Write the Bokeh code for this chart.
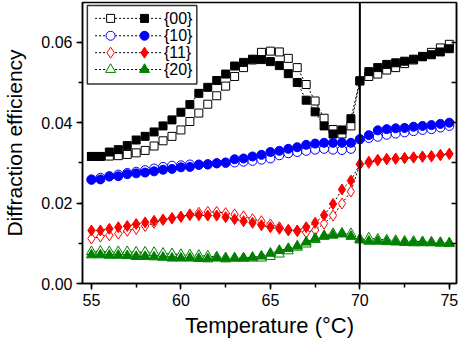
from bokeh.plotting import figure
from bokeh.models import (Range1d, LinearAxis, SingleIntervalTicker, FixedTicker,
                          NumeralTickFormatter, Span, ColumnDataSource)
from bokeh.core.properties import value
from bokeh.embed import file_html
from bokeh.resources import INLINE

temps = [55 + 0.5 * i for i in range(41)]

s00_filled = [0.0316, 0.0316, 0.0327, 0.0333, 0.0343, 0.0357, 0.0366, 0.0377, 0.0392, 0.0407,
              0.0426, 0.0445, 0.0473, 0.0488, 0.0505, 0.0521, 0.0541, 0.0550, 0.0558, 0.0557,
              0.0552, 0.0542, 0.0522, 0.0500, 0.0456, 0.0427, 0.0392, 0.0372, 0.0382, 0.0410,
              0.0504, 0.0527, 0.0537, 0.0545, 0.0549, 0.0553, 0.0558, 0.0564, 0.0569, 0.0576, 0.0584]
s00_open = [0.0316, 0.0316, 0.0317, 0.0318, 0.0321, 0.0325, 0.0331, 0.0342, 0.0355, 0.0366,
            0.0382, 0.0403, 0.0424, 0.0446, 0.0467, 0.0491, 0.0515, 0.0537, 0.0556, 0.0575,
            0.0578, 0.0576, 0.0560, 0.0537, 0.0495, 0.0454, 0.0411, 0.0383, 0.0372, 0.0392,
            0.0504, 0.0515, 0.0521, 0.0531, 0.0537, 0.0547, 0.0556, 0.0565, 0.0575, 0.0586, 0.0595]
s10_filled = [0.0258, 0.0259, 0.0266, 0.0267, 0.0272, 0.0274, 0.0276, 0.0279, 0.0283, 0.0285,
              0.0289, 0.0290, 0.0295, 0.0296, 0.0299, 0.0301, 0.0309, 0.0311, 0.0316, 0.0320,
              0.0327, 0.0330, 0.0335, 0.0339, 0.0345, 0.0348, 0.0350, 0.0350, 0.0350, 0.0350,
              0.0359, 0.0369, 0.0381, 0.0384, 0.0386, 0.0387, 0.0390, 0.0392, 0.0394, 0.0397, 0.0400]
s10_open = [0.0259, 0.0263, 0.0267, 0.0271, 0.0275, 0.0278, 0.0282, 0.0286, 0.0290, 0.0293,
            0.0294, 0.0296, 0.0296, 0.0297, 0.0299, 0.0300, 0.0301, 0.0303, 0.0305, 0.0308,
            0.0311, 0.0319, 0.0324, 0.0327, 0.0330, 0.0333, 0.0335, 0.0333, 0.0332, 0.0335,
            0.0359, 0.0362, 0.0365, 0.0370, 0.0373, 0.0376, 0.0379, 0.0382, 0.0384, 0.0388, 0.0392]
s11_filled = [0.0132, 0.0132, 0.0136, 0.0140, 0.0143, 0.0148, 0.0152, 0.0156, 0.0159, 0.0162,
              0.0166, 0.0170, 0.0170, 0.0169, 0.0169, 0.0165, 0.0160, 0.0155, 0.0151, 0.0145,
              0.0140, 0.0136, 0.0132, 0.0132, 0.0140, 0.0151, 0.0170, 0.0198, 0.0234, 0.0256,
              0.0297, 0.0303, 0.0308, 0.0310, 0.0311, 0.0312, 0.0314, 0.0316, 0.0317, 0.0320, 0.0323]
s11_open = [0.0112, 0.0117, 0.0120, 0.0124, 0.0131, 0.0136, 0.0143, 0.0151, 0.0158, 0.0163,
            0.0166, 0.0172, 0.0176, 0.0178, 0.0178, 0.0175, 0.0172, 0.0167, 0.0160, 0.0155,
            0.0147, 0.0140, 0.0134, 0.0130, 0.0127, 0.0133, 0.0149, 0.0169, 0.0199, 0.0229,
            0.0296, 0.0300, 0.0306, 0.0309, 0.0310, 0.0312, 0.0313, 0.0315, 0.0316, 0.0319, 0.0322]
s20_filled = [0.0071, 0.0071, 0.0070, 0.0070, 0.0069, 0.0067, 0.0067, 0.0066, 0.0065, 0.0063,
              0.0063, 0.0063, 0.0062, 0.0061, 0.0063, 0.0061, 0.0063, 0.0063, 0.0065, 0.0068,
              0.0075, 0.0082, 0.0087, 0.0093, 0.0103, 0.0112, 0.0117, 0.0120, 0.0123, 0.0117,
              0.0108, 0.0105, 0.0105, 0.0104, 0.0103, 0.0102, 0.0101, 0.0101, 0.0101, 0.0100, 0.0099]
s20_open = [0.0079, 0.0080, 0.0079, 0.0079, 0.0079, 0.0078, 0.0078, 0.0077, 0.0075, 0.0074,
            0.0072, 0.0071, 0.0070, 0.0068, 0.0066, 0.0064, 0.0063, 0.0063, 0.0063, 0.0063,
            0.0067, 0.0073, 0.0081, 0.0090, 0.0098, 0.0109, 0.0119, 0.0124, 0.0125, 0.0124,
            0.0111, 0.0113, 0.0110, 0.0108, 0.0107, 0.0105, 0.0105, 0.0104, 0.0103, 0.0102, 0.0101]

labels = ["{00}", "{10}", "{11}", "{20}"]
colors = ["black", "#0000ff", "#ff0000", "#008000"]
markers = ["square", "circle", "diamond", "triangle"]
sizes = [8, 9, 11, 10]
open_series = [s00_open, s10_open, s11_open, s20_open]
filled_series = [s00_filled, s10_filled, s11_filled, s20_filled]
transition_temp = 70
right_ticks = [0.01, 0.02, 0.03, 0.04, 0.05, 0.06]

W, H = 458, 340
BL, BR, BT, BB = 70, 2, 2, 55
FW, FH = W - BL - BR, H - BT - BB
FONT = "Liberation Sans"

p = figure(width=W, height=H, output_backend="svg", toolbar_location=None,
           x_range=Range1d(54.5, 75.4), y_range=Range1d(0, 0.0699),
           min_border_left=BL, min_border_right=BR, min_border_top=BT, min_border_bottom=BB,
           x_axis_label="Temperature (°C)", y_axis_label="Diffraction efficiency")
p.extra_x_ranges = {"lx": Range1d(0, FW)}
p.extra_y_ranges = {"ly": Range1d(FH, 0)}
p.grid.visible = False
p.outline_line_color = "black"
p.outline_line_width = 1.5
p.background_fill_color = "white"
p.border_fill_color = "white"

p.xaxis.ticker = SingleIntervalTicker(interval=5, num_minor_ticks=2)
p.yaxis.ticker = SingleIntervalTicker(interval=0.02, num_minor_ticks=2)
p.yaxis.formatter = NumeralTickFormatter(format="0.00")
for ax in (p.xaxis[0], p.yaxis[0]):
    ax.axis_line_width = 1.5
    ax.major_tick_line_width = 1.5
    ax.minor_tick_line_width = 1.5
    ax.major_tick_out = 6
    ax.major_tick_in = 0
    ax.minor_tick_out = 4
    ax.minor_tick_in = 0
    ax.major_label_text_font = FONT
    ax.major_label_text_font_size = "16px"
    ax.major_label_text_color = "black"
    ax.axis_label_text_font = FONT
    ax.axis_label_text_font_style = "normal"
    ax.axis_label_text_color = "black"
p.xaxis.axis_label_text_font_size = "22px"
p.yaxis.axis_label_text_font_size = "21px"
p.xaxis.major_label_standoff = 4
p.xaxis.axis_label_standoff = 4
p.yaxis.major_label_standoff = 4
p.yaxis.axis_label_standoff = 12

right = LinearAxis(ticker=FixedTicker(ticks=[], minor_ticks=right_ticks),
                   minor_tick_in=5, minor_tick_out=0, axis_line_width=1.5,
                   minor_tick_line_width=1.5)
p.add_layout(right, "right")

p.add_layout(Span(location=transition_temp, dimension="height", line_color="black", line_width=2))

for lab, c, m, sz, so, sf in zip(labels, colors, markers, sizes, open_series, filled_series):
    src_o = ColumnDataSource(dict(x=temps, y=so))
    src_f = ColumnDataSource(dict(x=temps, y=sf))
    p.line("x", "y", source=src_o, line_color="black", line_dash="2 2", line_width=1)
    p.line("x", "y", source=src_f, line_color="black", line_dash="2 2", line_width=1)
    p.scatter("x", "y", source=src_o, marker=m, size=sz, fill_color="white",
              line_color=c, line_width=1)
    p.scatter("x", "y", source=src_f, marker=m, size=sz, fill_color=c,
              line_color=c, line_width=1)

# manual legend (frame pixel coordinates)
leg_box = dict(left=5, right=118, top=3, bottom=82)
leg_rows = [16, 33.5, 50.5, 67.5]
leg_line = (13, 83)
leg_open_x, leg_filled_x, leg_text_x = 29, 64, 84
p.quad(left=leg_box["left"], right=leg_box["right"], top=leg_box["top"], bottom=leg_box["bottom"],
       fill_color="white", line_color="#333333", line_width=1.5,
       x_range_name="lx", y_range_name="ly")
for row, lab, c, m, sz in zip(leg_rows, labels, colors, markers, sizes):
    p.line([leg_line[0], leg_line[1]], [row, row], line_color="black", line_dash="2 2",
           line_width=1, x_range_name="lx", y_range_name="ly")
    p.scatter([leg_open_x], [row], marker=m, size=sz, fill_color="white", line_color=c,
              line_width=1, x_range_name="lx", y_range_name="ly")
    p.scatter([leg_filled_x], [row], marker=m, size=sz, fill_color=c, line_color=c,
              line_width=1, x_range_name="lx", y_range_name="ly")
    p.text([leg_text_x], [row], text=[lab], text_font=value(FONT), text_font_size="16px",
           text_baseline="middle", text_align="left", text_color="black",
           x_range_name="lx", y_range_name="ly")

open("out.html", "w").write(file_html(p, INLINE))
